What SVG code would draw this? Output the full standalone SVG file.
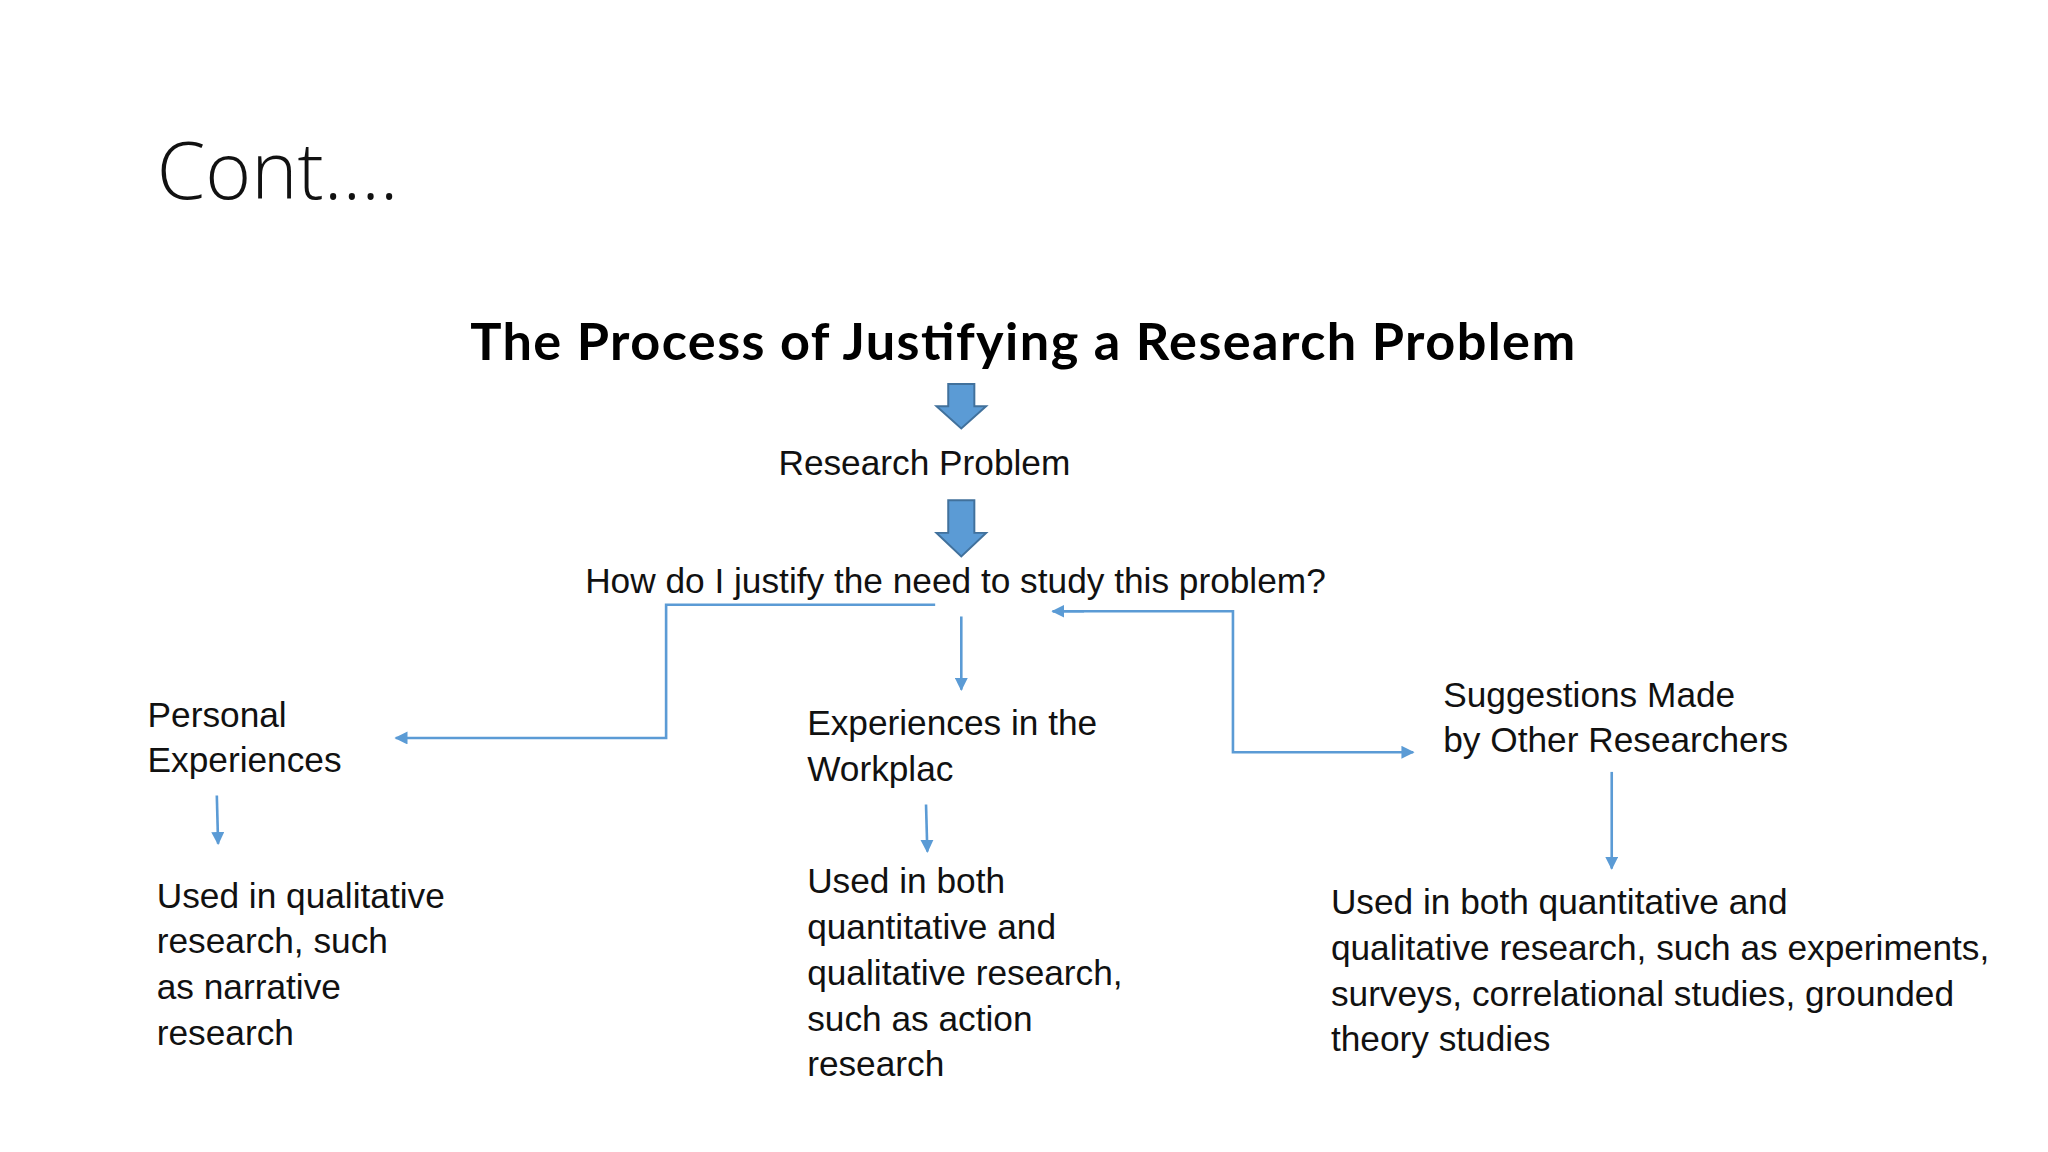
<svg xmlns="http://www.w3.org/2000/svg" width="2048" height="1152" viewBox="0 0 2048 1152">
<style>
.t{font-family:"Liberation Sans",Arial,sans-serif;font-size:27px;fill:#111}
.c{fill:none;stroke:#5b9bd5;stroke-width:2}
.b{fill:#5b9bd5;stroke:#41719c;stroke-width:1.5}
</style>
<defs><marker id="a" viewBox="0 0 10 10" refX="9" refY="5" markerWidth="5" markerHeight="5" orient="auto"><path d="M0,0L10,5L0,10z" fill="#5b9bd5"/></marker></defs>
<rect width="2048" height="1152" fill="#fff"/>
<g transform="scale(1.3061)">
<text x="120" y="152" font-family="'Open Sans',sans-serif" font-weight="300" font-size="60" fill="#111">Cont….</text>
<text x="783" y="276" text-anchor="middle" font-family="Lato,'Open Sans',sans-serif" font-weight="bold" font-size="40" textLength="846" fill="#000">The Process of Justifying a Research Problem</text>
<g id="arrow1"><path class="b" d="M726,294H746V311H755L736,328L717,311H726Z"/></g>
<g id="n-rp"><text class="t" x="596" y="364">Research Problem</text></g>
<g id="arrow2"><path class="b" d="M726,383H746V408H755L736,426L717,408H726Z"/></g>
<g id="n-q"><text class="t" x="448" y="454">How do I justify the need to study this problem?</text></g>
<g id="n-pe"><text class="t" x="113" y="557">Personal</text><text class="t" x="113" y="591">Experiences</text></g>
<g id="n-ew"><text class="t" x="618" y="563">Experiences in the</text><text class="t" x="618" y="598">Workplac</text></g>
<g id="n-sm"><text class="t" x="1105" y="541">Suggestions Made</text><text class="t" x="1105" y="576">by Other Researchers</text></g>
<g id="n-l"><text class="t" x="120" y="695">Used in qualitative</text><text class="t" x="120" y="730">research, such</text><text class="t" x="120" y="765">as narrative</text><text class="t" x="120" y="800">research</text></g>
<g id="n-m"><text class="t" x="618" y="684">Used in both</text><text class="t" x="618" y="719">quantitative and</text><text class="t" x="618" y="754">qualitative research,</text><text class="t" x="618" y="789">such as action</text><text class="t" x="618" y="824">research</text></g>
<g id="n-r"><text class="t" x="1019" y="700">Used in both quantitative and</text><text class="t" x="1019" y="735">qualitative research, such as experiments,</text><text class="t" x="1019" y="770">surveys, correlational studies, grounded</text><text class="t" x="1019" y="805">theory studies</text></g>
<g id="connectors" class="c">
<polyline class="c" points="716,463 510,463 510,565 303,565" marker-end="url(#a)"/>
<line class="c" x1="736" y1="472" x2="736" y2="528" marker-end="url(#a)"/>
<polyline class="c" points="806,468 944,468 944,576 1082,576" marker-start="url(#a)" marker-end="url(#a)" style="marker-start:none"/>
<line class="c" x1="830" y1="468" x2="806" y2="468" marker-end="url(#a)"/>
<line class="c" x1="166" y1="609" x2="167" y2="646" marker-end="url(#a)"/>
<line class="c" x1="709" y1="616" x2="710" y2="652" marker-end="url(#a)"/>
<line class="c" x1="1234" y1="591" x2="1234" y2="665" marker-end="url(#a)"/>
</g>
</g>
</svg>
